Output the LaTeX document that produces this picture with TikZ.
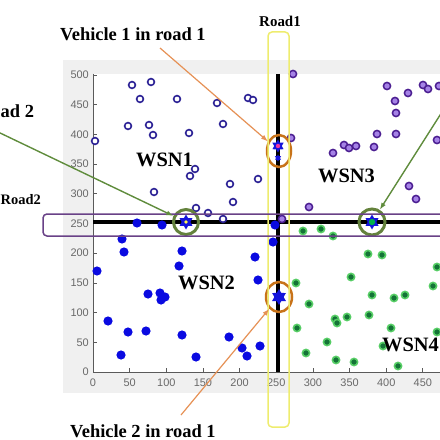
\documentclass[tikz,border=0pt]{standalone}
\usepackage{fontspec}
\setmainfont{Liberation Serif}
\setsansfont{Liberation Sans}
\usetikzlibrary{shapes.geometric,arrows.meta}
\definecolor{figbg}{RGB}{240,240,240}
\definecolor{axisc}{RGB}{90,90,90}
\definecolor{tickc}{RGB}{105,105,105}
\definecolor{navyedge}{RGB}{45,35,150}
\definecolor{bluefill}{RGB}{10,10,225}
\definecolor{purpedge}{RGB}{75,30,145}
\definecolor{purpfill}{RGB}{165,130,230}
\definecolor{gcore}{RGB}{20,115,55}
\definecolor{ghalo}{RGB}{85,205,100}
\definecolor{orangearr}{RGB}{230,145,85}
\definecolor{orangering}{RGB}{200,115,25}
\definecolor{greenring}{RGB}{100,130,60}
\definecolor{greenarr}{RGB}{95,140,60}
\definecolor{roadyellow}{RGB}{238,236,110}
\definecolor{roadpurple}{RGB}{105,65,135}
\definecolor{starblue}{RGB}{20,20,220}
\begin{document}
\begin{tikzpicture}[x=1bp,y=-1bp,
  axisline/.style={draw=axisc,line width=0.8bp},
  ticklab/.style={font=\sffamily\fontsize{11}{11}\selectfont,text=tickc,inner sep=0pt},
  road/.style={line width=4bp,black},
  wsnA/.style={draw=navyedge,fill=white,line width=1.6bp},
  wsnB/.style={fill=bluefill},
  wsnC/.style={draw=purpedge,fill=purpfill,line width=1.5bp},
  wsnD/.style={draw=ghalo,fill=gcore,line width=1.6bp},
  hexa/.style={star,star points=6,star point ratio=1.73,inner sep=0pt,fill=starblue,minimum size=#1},
  ring/.style={ellipse,draw=orangering,line width=2.5bp,inner sep=0pt},
  gring/.style={circle,draw=greenring,line width=3bp,inner sep=0pt},
  oarrow/.style={draw=orangearr,line width=1.2bp,-{Latex[length=7bp,width=5bp]}},
  garrow/.style={draw=greenarr,line width=1.4bp,-{Latex[length=7bp,width=5bp]}},
  biglab/.style={font=\bfseries\fontsize{18.5}{18.5}\selectfont,inner sep=0pt},
  wsnlab/.style={font=\bfseries\fontsize{20.5}{20.5}\selectfont,inner sep=0pt},
  roadlab/.style={font=\bfseries\fontsize{15}{15}\selectfont,inner sep=0pt},
  roadbox/.style={rounded corners=4bp,line width=1.5bp}
]
\useasboundingbox (0,0) rectangle (440,440);
% figure and axes background
\fill[figbg] (63,60) rectangle (445,393);
\fill[white] (93,74) rectangle (445,372);
\draw[axisline] (93,74) -- (93,372) -- (445,372);
\foreach \v in {0,50,...,500} {
  \draw[axisline] (93,{372-0.594*\v}) -- ++(4,0);
  \node[ticklab,anchor=east] (yl\v) at (89,{372-0.594*\v}) {\v};
}
\foreach \v in {0,50,...,450} {
  \draw[axisline] ({93+0.733*\v},372) -- ++(0,-4);
  \node[ticklab] (xl\v) at ({93+0.733*\v},383) {\v};
}
% roads
\draw[road] (278,74) -- (278,372);
\draw[road] (93,222) -- (445,222);
% WSN1 hollow navy
\foreach \x/\y in {95/141,132/85,151/82,140/99,177/99,217/103,128/126,149/125,153/135,189/133,
  195/169,190/176,154/192,196/208,208/213,223/124,248/98,253/100,230/184,258/179,233/202,223/219}
  \draw[wsnA] (\x,\y) circle[radius=3.4];
% WSN2 filled blue
\foreach \x/\y in {137/223,162/225,122/239,124/252,182/251,97/271,179/266,148/294,160/293,165/297,
  161/300,108/321,128/332,146/331,182/335,121/355,196/357,273/242,255/257,258/280,229/337,242/348,
  247/356,260/346,275/225}
  \fill[wsnB] (\x,\y) circle[radius=4.6];
% WSN3 purple
\foreach \x/\y in {293/74,291/138,282/219,387/86,408/93,423/85,428/89,395/101,396/113,396/134,377/134,
  374/147,344/145,349/148,356/146,333/153,309/207,409/186,416/199,437/140,439/86}
  \draw[wsnC] (\x,\y) circle[radius=3.6];
% WSN4 green
\foreach \x/\y in {303/231,321/229,333/236,368/254,382/255,437/267,296/283,351/277,309/304,372/295,
  394/298,405/295,433/286,335/319,337/323,347/317,369/315,297/328,391/328,437/332,327/342,306/353,
  336/360,354/362,383/346,398/366}
  \draw[wsnD] (\x,\y) circle[radius=3.6];
% vehicles
\node[hexa=7bp] (v1b) at (278,158) {};
\node[hexa=13bp] (v1) at (278,146) {};
\fill[magenta!80!white] (v1.center) circle[radius=2.2];
\node[hexa=16bp] (v2) at (279,297) {};
\node[hexa=15bp] (v3) at (186,222) {};
\fill[yellow!70!white] (v3.center) circle[radius=1.8];
\node[hexa=15bp] (v4) at (372,222) {};
\fill[teal!60!green] (v4.center) circle[radius=3.2];
% highlight rings
\node[ring,minimum width=24bp,minimum height=32bp] (e1) at (279,151) {};
\node[ring,minimum width=26bp,minimum height=30bp] (e2) at (279,297) {};
\node[gring,minimum size=25bp] (c3) at (186,222) {};
\node[gring,minimum size=26bp] (c4) at (372,222) {};
% road boxes
\draw[roadbox,draw=roadyellow] (268,32) rectangle (289,427);
\draw[roadbox,draw=roadpurple] (43,214) rectangle (460,236);
% labels
\node[biglab,anchor=base west] (lv1) at (60,41) {Vehicle 1 in road 1};
\node[biglab,anchor=base west] (lv2) at (70,437) {Vehicle 2 in road 1};
\node[biglab,anchor=base west] (lv3) at (0.5,118) {ad 2};
\node[roadlab,anchor=base] (r1) at (280,27) {Road1};
\node[roadlab,anchor=base west,font=\bfseries\fontsize{14.5}{14.5}\selectfont] (r2) at (0.5,205) {Road2};
\node[wsnlab,anchor=base west] (w1) at (136,167) {WSN1};
\node[wsnlab,anchor=base west] (w2) at (178,289) {WSN2};
\node[wsnlab,anchor=base west] (w3) at (318,183) {WSN3};
\node[wsnlab,anchor=base west] (w4) at (382,351) {WSN4};
% arrows
\coordinate (a1) at (160,48);
\coordinate (a2) at (181,415);
\coordinate (a3) at (-2,132);
\coordinate (a4) at (442,112);
\draw[oarrow] (a1) -- (e1);
\draw[oarrow] (a2) -- (e2);
\draw[garrow] (a3) -- (c3);
\draw[garrow] (a4) -- (c4);
\end{tikzpicture}
\end{document}
